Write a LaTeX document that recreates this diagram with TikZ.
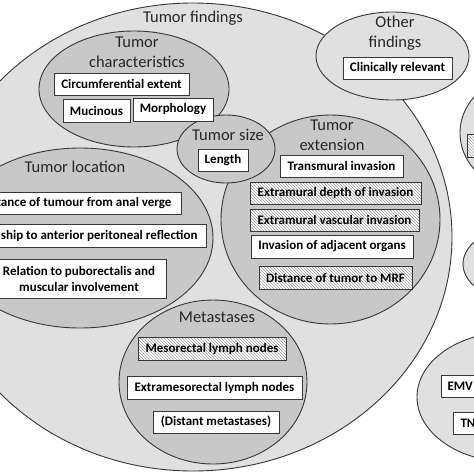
\documentclass[tikz,border=0pt]{standalone}
\usepackage{fontspec}
\setmainfont{Carlito}
\usetikzlibrary{patterns}
\definecolor{innergray}{RGB}{200,200,200}
\definecolor{outerbg}{RGB}{224,224,224}
\definecolor{edgecol}{RGB}{55,55,55}
\tikzset{
  ell/.style={draw=edgecol, line width=0.9pt},
  bgell/.style={ell, fill=outerbg},
  innerell/.style={ell, fill=innergray},
  box/.style={draw=edgecol, line width=1pt, fill=white, inner sep=0pt, align=center,
     font=\fontsize{13}{16}\selectfont\bfseries},
  hbox/.style={box, preaction={fill=white}, pattern=north west lines, pattern color=gray!75},
  title/.style={font=\fontsize{16.5}{20}\selectfont, align=center, text=black!85, inner sep=0pt}
}
\begin{document}
\begin{tikzpicture}[x=1pt,y=-1pt]
\useasboundingbox (0,0) rectangle (474,474);
\clip (0,0) rectangle (474,474);
\fill[white] (0,0) rectangle (474,474);
% outer ellipses
\draw[bgell] (193,237) ellipse [x radius=259, y radius=234];
\draw[bgell] (530,133) ellipse [x radius=70, y radius=60];
\draw[bgell] (520,264) ellipse [x radius=57, y radius=37];
\draw[bgell] (510,397) ellipse [x radius=93, y radius=65];
\draw[bgell] (392.5,56) ellipse [x radius=76.5, y radius=44];
% inner ellipses
\draw[innerell] (134,89) ellipse [x radius=95, y radius=58];
\draw[innerell] (80,238) ellipse [x radius=133, y radius=90];
\draw[innerell] (330.5,219.5) ellipse [x radius=109.5, y radius=104.5];
\draw[innerell] (213,382) ellipse [x radius=94, y radius=82];
\draw[innerell] (226,149) ellipse [x radius=49, y radius=34];
% titles
\node[title] (tf) at (193,18) {Tumor findings};
\node[title] (tc) at (137,52) {Tumor\\characteristics};
\node[title] (of) at (395,33) {Other\\findings};
\node[title] (ts) at (228,135) {Tumor size};
\node[title] (tl) at (75,167) {Tumor location};
\node[title] (te) at (332,135) {Tumor\\extension};
\node[title] (me) at (217,317) {Metastases};
% boxes
\node[box, minimum width=135, minimum height=22] (circ) at (121.5,84) {Circumferential extent};
\node[box, minimum width=67, minimum height=23] (muc) at (96.5,110.5) {Mucinous};
\node[box, minimum width=80, minimum height=23] (morph) at (173,109.5) {Morphology};
\node[box, minimum width=50, minimum height=22] (len) at (223,160) {Length};
\node[box, minimum width=109, minimum height=22] (clin) at (397.5,68) {Clinically relevant};
\node[box, anchor=east, minimum height=22, inner xsep=10pt] (dist) at (182,203) {Distance of tumour from anal verge};
\node[box, anchor=east, minimum height=23, inner xsep=9pt] (rel) at (207,235.5) {Relationship to anterior peritoneal reflection};
\node[box, minimum width=174, minimum height=39] (pub) at (79,278.5) {Relation to puborectalis and\\muscular involvement};
\node[box, minimum width=123, minimum height=22] (trans) at (341.5,166) {Transmural invasion};
\node[hbox, minimum width=171, minimum height=22] (edep) at (335.5,193) {Extramural depth of invasion};
\node[hbox, minimum width=169, minimum height=22] (evas) at (334.5,220) {Extramural vascular invasion};
\node[box, minimum width=162, minimum height=23] (adj) at (332,246.5) {Invasion of adjacent organs};
\node[hbox, minimum width=153, minimum height=23] (mrf) at (335.5,277.5) {Distance of tumor to MRF};
\node[hbox, minimum width=148, minimum height=23] (meso) at (212,348.5) {Mesorectal lymph nodes};
\node[box, minimum width=175, minimum height=23] (extra) at (214.5,387.5) {Extramesorectal lymph nodes};
\node[box, minimum width=126, minimum height=22] (distm) at (216,422) {(Distant metastases)};
\node[hbox, minimum width=40, minimum height=23] (rbox) at (487,145.5) {};
\node[box, anchor=west, minimum height=22, inner xsep=6pt] (emv) at (441,386) {EMV};
\node[box, anchor=west, minimum height=22, inner xsep=7pt] (tn) at (453,423) {TN};
\end{tikzpicture}
\end{document}
